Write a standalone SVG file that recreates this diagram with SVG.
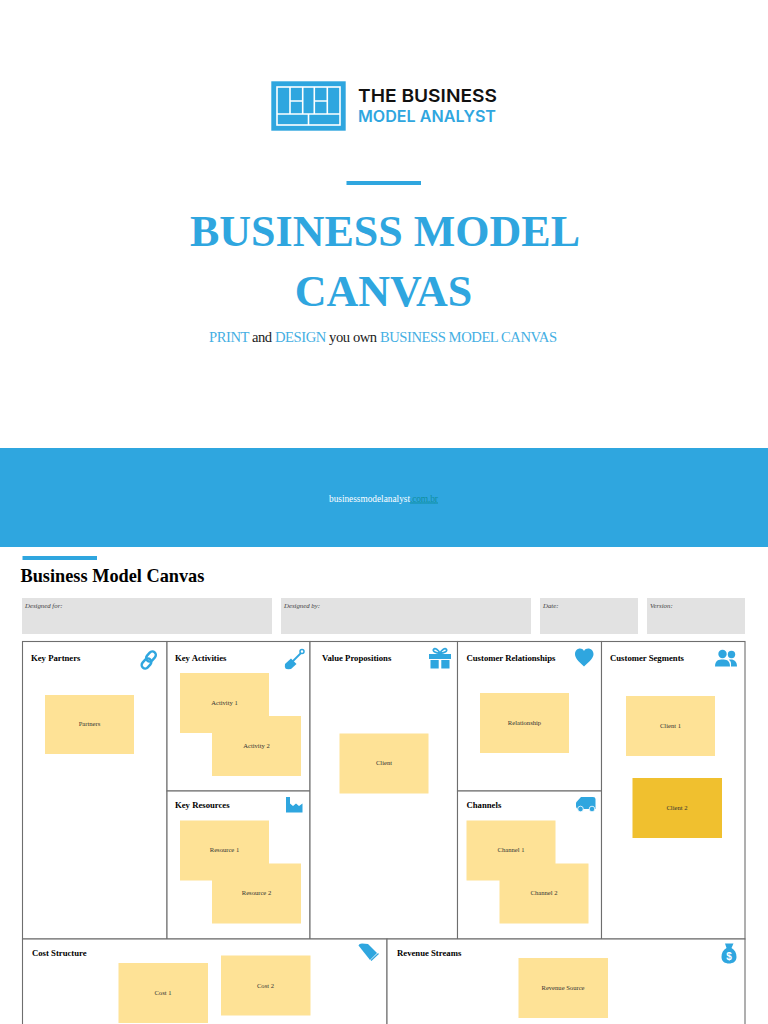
<svg xmlns="http://www.w3.org/2000/svg" width="768" height="1024" viewBox="0 0 768 1024">
<style>
text{font-family:"Liberation Serif","Times New Roman",serif}
.blue{fill:#2fa6df}
.cell{fill:#fff;stroke:#6e6e6e;stroke-width:1.1}
.gray{fill:#e2e2e2}
.meta{font-size:6.800px;font-style:italic;fill:#444}
.hd{font-size:8.700px;font-weight:bold;fill:#000}
.note{fill:#fee296}
.gold{fill:#f0c02f}
.nt{font-size:6.600px;fill:#333;text-anchor:middle}
.ttl{font-size:44px;font-weight:bold;fill:#2fa6df;text-anchor:middle}
.sub{font-size:14.600px;fill:#45afe3}
</style>
<rect width="768" height="1024" fill="#fff"/>
<g id="logo">
<rect class="blue" x="271.300" y="81.300" width="74.400" height="49.400"/>
<g fill="none" stroke="#fff" stroke-width="1.600">
<rect x="277" y="87" width="63" height="38"/>
<path d="M277 114H340M290 87V114M302.700 87V114M314.300 87V114M327.300 87V114M290 101H302.700M314.300 101H327.300M308.500 114V125"/>
</g>
<text x="358" y="102" font-size="17.500" font-weight="600" fill="#111" style="font-family:Inter,'Open Sans',sans-serif" textLength="139" lengthAdjust="spacingAndGlyphs">THE BUSINESS</text>
<text x="358" y="122.300" font-size="15.600" font-weight="600" fill="#2fa6df" style="font-family:Inter,'Open Sans',sans-serif" textLength="138" lengthAdjust="spacingAndGlyphs">MODEL ANALYST</text>
</g>
<rect class="blue" x="346.500" y="181" width="74.500" height="4"/>
<text class="ttl" x="385" y="245.700">BUSINESS MODEL</text>
<text class="ttl" x="383.500" y="305.700">CANVAS</text>
<text class="sub" x="209" y="342" textLength="348"><tspan>PRINT </tspan><tspan fill="#222">and </tspan><tspan>DESIGN </tspan><tspan fill="#222">you own </tspan><tspan>BUSINESS MODEL CANVAS</tspan></text>
<rect class="blue" x="0" y="448" width="768" height="99"/>
<text x="329" y="501.500" font-size="9.500" fill="#fff" textLength="81" lengthAdjust="spacingAndGlyphs">businessmodelanalyst</text>
<text x="410" y="501.500" font-size="9.500" fill="#0f8f9f" text-decoration="underline" textLength="28">.com.br</text>
<rect class="blue" x="22.500" y="556" width="74.500" height="4"/>
<text x="20.500" y="582" font-size="18.300" font-weight="bold" fill="#000">Business Model Canvas</text>
<g id="meta">
<rect class="gray" x="22" y="598" width="250" height="36"/>
<rect class="gray" x="281" y="598" width="250" height="36"/>
<rect class="gray" x="540" y="598" width="98" height="36"/>
<rect class="gray" x="647" y="598" width="98" height="36"/>
<text class="meta" x="25" y="607.500">Designed for:</text>
<text class="meta" x="284" y="607.500">Designed by:</text>
<text class="meta" x="543" y="607.500">Date:</text>
<text class="meta" x="650" y="607.500">Version:</text>
</g>
<g id="key-partners">
<rect class="cell" x="22.500" y="641.500" width="144.500" height="297.500"/>
<text class="hd" x="31" y="661">Key Partners</text>
<g fill="none" stroke="#2fa6df" stroke-width="2.400"><rect x="147.500" y="651" width="7" height="11" rx="3.500" transform="rotate(42 151 656.500)"/><rect x="143" y="658" width="7" height="11" rx="3.500" transform="rotate(42 146.500 663.500)"/></g>
<rect class="note" x="45" y="695" width="89" height="59"/>
<text class="nt" x="89.500" y="726">Partners</text>
</g>
<g id="key-activities">
<rect class="cell" x="167" y="641.500" width="143" height="149.500"/>
<text class="hd" x="175" y="661">Key Activities</text>
<path class="blue" d="M285 664L291 658.500L296.500 664L291 669Q286.500 669.500 285.500 668.500Q284.500 667 285 664Z"/>
<path d="M292 662L301 653" stroke="#2fa6df" stroke-width="1.800" fill="none"/><circle cx="302" cy="651.500" r="2" fill="none" stroke="#2fa6df" stroke-width="1.500"/>
<rect class="note" x="180" y="673" width="89" height="60"/>
<text class="nt" x="224.500" y="705">Activity 1</text>
<rect class="note" x="212" y="716" width="89" height="60"/>
<text class="nt" x="256.500" y="748">Activity 2</text>
</g>
<g id="key-resources">
<rect class="cell" x="167" y="791" width="143" height="148"/>
<text class="hd" x="175" y="808">Key Resources</text>
<path class="blue" d="M286 797H290V803.500L293 806L296 803.500L299 806L302.500 803.500V812.500H286Z"/>
<rect class="note" x="180" y="820.500" width="89" height="60"/>
<text class="nt" x="224.500" y="852">Resource 1</text>
<rect class="note" x="212" y="863.500" width="89" height="60"/>
<text class="nt" x="256.500" y="895">Resource 2</text>
</g>
<g id="value-propositions">
<rect class="cell" x="310" y="641.500" width="147.500" height="297.500"/>
<text class="hd" x="322" y="661">Value Propositions</text>
<path class="blue" d="M429 654H451V659H429ZM430.500 660H438.700V668.500H430.500ZM441.300 660H449.500V668.500H441.300ZM438.700 654H441.300V659H438.700Z"/>
<path d="M440 653.500C436 653 432.500 651.500 433.500 649.500C435 647.500 439 650 440 653.500C441 650 445 647.500 446.500 649.500C447.500 651.500 444 653 440 653.500Z" fill="none" stroke="#2fa6df" stroke-width="1.700"/>
<rect class="note" x="339.500" y="733.500" width="89" height="60"/>
<text class="nt" x="384" y="765">Client</text>
</g>
<g id="customer-relationships">
<rect class="cell" x="457.500" y="641.500" width="144" height="149.500"/>
<text class="hd" x="466.500" y="661">Customer Relationships</text>
<path class="blue" d="M584 666.500C578 661 575 658 575 654C575 648.500 581.500 646.500 584 651C586.500 646.500 593.500 648.500 593.500 654C593.500 658 590 661 584 666.500Z"/>
<rect class="note" x="480" y="693" width="89" height="60"/>
<text class="nt" x="524.500" y="725">Relationship</text>
</g>
<g id="channels">
<rect class="cell" x="457.500" y="791" width="144" height="148"/>
<text class="hd" x="466.500" y="808">Channels</text>
<path class="blue" d="M581 797H593Q595.500 797 595.500 799V809H579Q576 809 576 806V802.500Z"/>
<circle cx="580.500" cy="809" r="2.800" class="blue" stroke="#fff" stroke-width=".8"/><circle cx="592" cy="809" r="2.800" class="blue" stroke="#fff" stroke-width=".8"/>
<rect class="note" x="466.500" y="820.500" width="89" height="60"/>
<text class="nt" x="511" y="852">Channel 1</text>
<rect class="note" x="499.500" y="863.500" width="89" height="60"/>
<text class="nt" x="544" y="895">Channel 2</text>
</g>
<g id="customer-segments">
<rect class="cell" x="601.500" y="641.500" width="143.500" height="297.500"/>
<text class="hd" x="610" y="661">Customer Segments</text>
<circle class="blue" cx="722.500" cy="654" r="4.200"/><circle class="blue" cx="731.500" cy="654.500" r="3.700"/>
<path class="blue" d="M715 666.500C715 660 719 659.500 722.500 659.500C726 659.500 730 660 730 666.500Z"/><path class="blue" d="M731 666.500C731.500 662.500 730.500 661 728.800 659.800C733 658.700 737 660.500 737 666.500Z"/>
<rect class="note" x="626" y="696" width="89" height="60"/>
<text class="nt" x="670.500" y="728">Client 1</text>
<rect class="gold" x="632.500" y="778" width="89.500" height="60"/>
<text class="nt" x="677" y="810">Client 2</text>
</g>
<g id="cost-structure">
<rect class="cell" x="22.500" y="939" width="364.500" height="90"/>
<text class="hd" x="32" y="956">Cost Structure</text>
<path class="blue" d="M358.500 945.500Q359 943.500 362 943.500L368 944L377 953L370 960Z"/>
<path d="M371 960.500L378.500 953.500" stroke="#2fa6df" stroke-width="1.200" fill="none"/>
<rect class="note" x="118.500" y="963" width="89.500" height="60"/>
<text class="nt" x="163" y="995">Cost 1</text>
<rect class="note" x="221" y="955.500" width="89.500" height="60"/>
<text class="nt" x="265.500" y="987.500">Cost 2</text>
</g>
<g id="revenue-streams">
<rect class="cell" x="387" y="939" width="358" height="90"/>
<text class="hd" x="397" y="956">Revenue Streams</text>
<path class="blue" d="M725 943.500H733.500L731.500 948C735 950 736.500 953 736.500 957C736.500 961.500 733 963.500 729 963.500C725 963.500 721.500 961.500 721.500 957C721.500 953 723 950 726.500 948Z"/>
<text x="729" y="960" font-size="10" font-weight="bold" fill="#fff" text-anchor="middle" style="font-family:'Liberation Sans',sans-serif">$</text>
<rect class="note" x="518.500" y="958" width="89.500" height="60"/>
<text class="nt" x="563" y="990">Revenue Source</text>
</g>
</svg>
